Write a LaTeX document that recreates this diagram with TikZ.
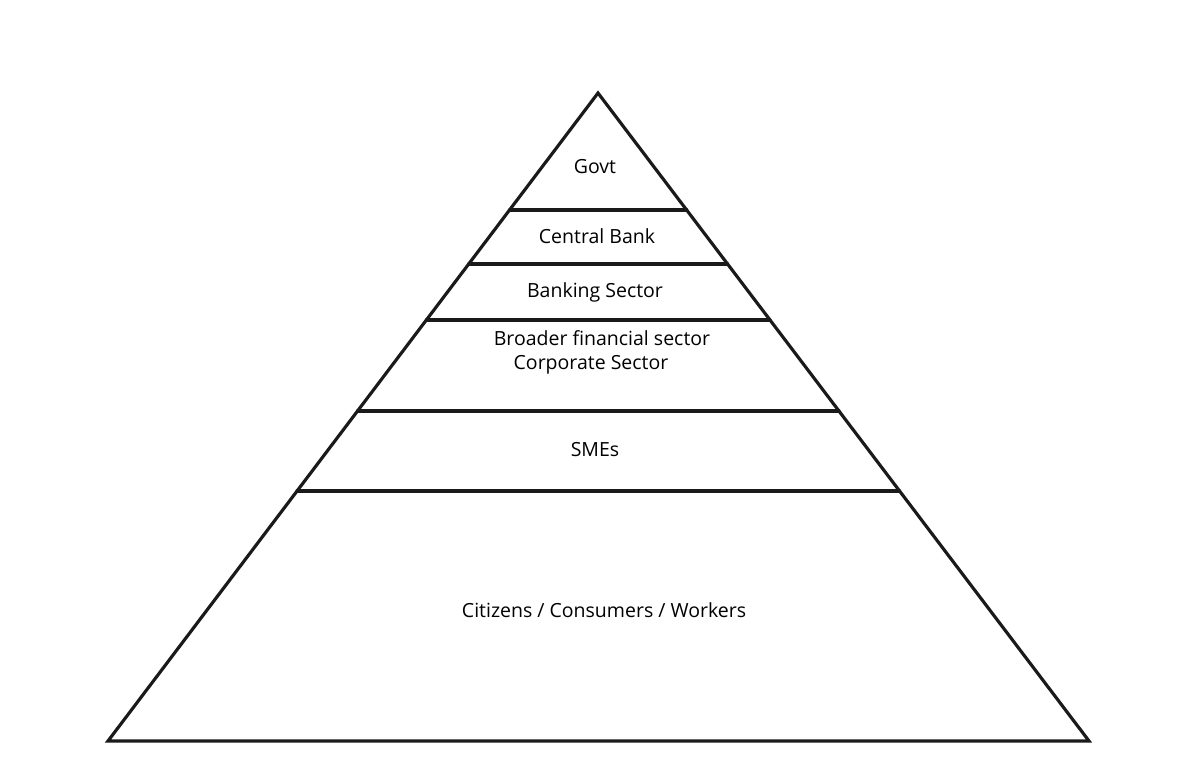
\documentclass[tikz,border=0pt]{standalone}
\usepackage{fontspec}
\setmainfont{Open Sans}
\usepackage{tikz}
\usetikzlibrary{ positioning, calc }
\usepackage{xcolor}
\definecolor{edge}{HTML}{1a1a1a}

\begin{document}
\begin{tikzpicture}[
  x=0.02cm, y=-0.02cm,
  tier/.style={line width=1.8pt, edge, line cap=round},
  lbl/.style={font=\fontsize{11.1}{13}\selectfont, text=black, inner sep=1pt},
]
  \useasboundingbox (0,0) rectangle (1200,782);
  % outline of the pyramid
  \coordinate (apex) at (598,93);
  \coordinate (bl) at (108,741);
  \coordinate (br) at (1089,741);
  \draw[tier, line join=miter] (apex) -- (bl) -- (br) -- cycle;
  % dividing lines between the tiers
  \foreach \t/\n in {0.1806/a, 0.2639/b, 0.3503/c, 0.4907/d, 0.6142/e} {
    \coordinate (l\n) at ($(apex)!\t!(bl)$);
    \coordinate (r\n) at ($(apex)!\t!(br)$);
    \draw[tier] (l\n) -- (r\n);
  }
  \node[lbl] (govt) at (595,167) {Govt};
  \node[lbl] (cb) at (597,236) {Central Bank};
  \node[lbl] (bank) at (595,292) {Banking Sector};
  \node[lbl] (fin) at (602,338) {Broader financial sector};
  \node[lbl] (corp) at (591,364.5) {Corporate Sector};
  \node[lbl] (sme) at (595,450) {SMEs};
  \node[lbl] (cit) at (604,610) {Citizens / Consumers / Workers};
\end{tikzpicture}
\end{document}
